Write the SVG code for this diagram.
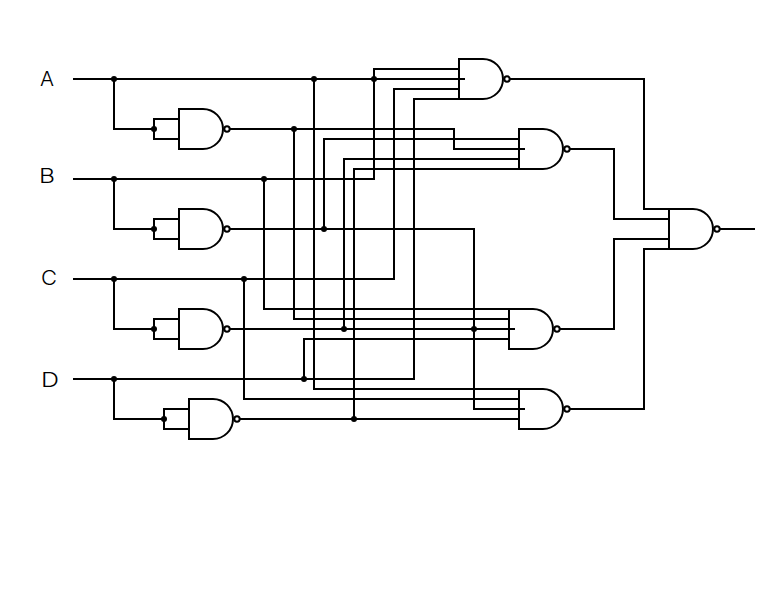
<svg xmlns="http://www.w3.org/2000/svg" width="780" height="600" viewBox="0 0 780 600">
<style>
.w{fill:none;stroke:#000;stroke-width:2;stroke-linejoin:miter}
.g{fill:none;stroke:#000;stroke-width:2}
.b{fill:#fff;stroke:#000;stroke-width:2}
.j{fill:#000}
text{font-family:"Inter","Liberation Sans",sans-serif;font-weight:300;font-size:20px;fill:#000}
</style>
<defs>
<g id="nand"><path class="g" d="M0,0H24A20,20 0 0 1 24,40H0Z"/><circle class="b" cx="48" cy="20" r="2.7"/></g>
<circle id="dot" class="j" r="3"/>
</defs>
<rect width="780" height="600" fill="#fff"/>
<g id="connectors">
<path class="w" d="M73,79H465"/>
<path class="w" d="M114,79V129H154"/>
<path class="w" d="M179,119H154V139H179"/>
<path class="w" d="M230,129H454V149H525"/>
<path class="w" d="M294,129V319H509"/>
<path class="w" d="M73,179H374V69H459"/>
<path class="w" d="M264,179V309H509"/>
<path class="w" d="M114,179V229H154"/>
<path class="w" d="M179,219H154V239H179"/>
<path class="w" d="M230,229H474V409H525"/>
<path class="w" d="M324,229V139H519"/>
<path class="w" d="M73,279H394V89H459"/>
<path class="w" d="M244,279V399H519"/>
<path class="w" d="M114,279V329H154"/>
<path class="w" d="M179,319H154V339H179"/>
<path class="w" d="M230,329H515"/>
<path class="w" d="M344,329V159H519"/>
<path class="w" d="M73,379H414V99H459"/>
<path class="w" d="M304,379V339H509"/>
<path class="w" d="M314,79V389H519"/>
<path class="w" d="M114,379V419H164"/>
<path class="w" d="M189,409H164V429H189"/>
<path class="w" d="M240,419H519"/>
<path class="w" d="M354,419V169H519"/>
<path class="w" d="M510,79H644V209H669"/>
<path class="w" d="M570,149H614V219H669"/>
<path class="w" d="M560,329H614V239H669"/>
<path class="w" d="M570,409H644V249H669"/>
<path class="w" d="M720,229H755"/>
<use href="#dot" x="114" y="79"/><use href="#dot" x="314" y="79"/><use href="#dot" x="374" y="79"/>
<use href="#dot" x="154" y="129"/><use href="#dot" x="294" y="129"/>
<use href="#dot" x="114" y="179"/><use href="#dot" x="264" y="179"/>
<use href="#dot" x="154" y="229"/><use href="#dot" x="324" y="229"/>
<use href="#dot" x="114" y="279"/><use href="#dot" x="244" y="279"/>
<use href="#dot" x="154" y="329"/><use href="#dot" x="344" y="329"/><use href="#dot" x="474" y="329"/>
<use href="#dot" x="114" y="379"/><use href="#dot" x="304" y="379"/>
<use href="#dot" x="164" y="419"/><use href="#dot" x="354" y="419"/>
</g>
<g id="label-A"><text x="40" y="86" textLength="14" lengthAdjust="spacingAndGlyphs">A</text></g>
<g id="label-B"><text x="39" y="183" textLength="16" lengthAdjust="spacingAndGlyphs">B</text></g>
<g id="label-C"><text x="41" y="285" textLength="16" lengthAdjust="spacingAndGlyphs">C</text></g>
<g id="label-D"><text x="41" y="387" textLength="18" lengthAdjust="spacingAndGlyphs">D</text></g>
<g id="gate-not-a"><use href="#nand" x="179" y="109"/></g>
<g id="gate-not-b"><use href="#nand" x="179" y="209"/></g>
<g id="gate-not-c"><use href="#nand" x="179" y="309"/></g>
<g id="gate-not-d"><use href="#nand" x="189" y="399"/></g>
<g id="gate-1"><use href="#nand" x="459" y="59"/></g>
<g id="gate-2"><use href="#nand" x="519" y="129"/></g>
<g id="gate-3"><use href="#nand" x="509" y="309"/></g>
<g id="gate-4"><use href="#nand" x="519" y="389"/></g>
<g id="gate-out"><use href="#nand" x="669" y="209"/></g>
</svg>
